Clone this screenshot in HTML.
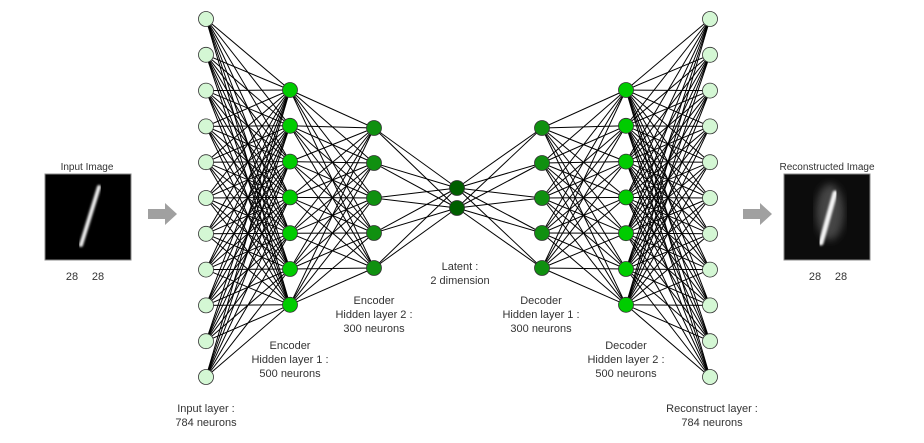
<!DOCTYPE html>
<html><head><meta charset="utf-8"><style>
body{margin:0;background:#fff;width:924px;height:443px;overflow:hidden;font-family:"Liberation Sans",sans-serif}
svg{position:absolute;left:0;top:0}
</style></head><body>
<svg id="s" width="924" height="443" xmlns="http://www.w3.org/2000/svg">
<defs>
<filter id="bl"><feGaussianBlur stdDeviation="1"/></filter>
<filter id="bl2"><feGaussianBlur stdDeviation="4"/></filter>
</defs>
<g id="lines" stroke="#000" stroke-width="1"></g>
<g id="nodes"></g>
<text x="87" y="170" font-size="10" text-anchor="middle" fill="#333">Input Image</text>
<rect x="45" y="174" width="86" height="86" fill="#000" stroke="#888" stroke-width="1"/>
<line x1="99" y1="187" x2="81" y2="245" stroke="#eee" stroke-width="4" stroke-linecap="round" filter="url(#bl)"/>
<text x="72" y="280" font-size="11" text-anchor="middle" fill="#333">28</text>
<text x="98" y="280" font-size="11" text-anchor="middle" fill="#333">28</text>
<polygon points="148,209 165,209 165,203 177,214 165,225 165,219 148,219" fill="#a0a0a0"/>
<text x="827" y="170" font-size="10" text-anchor="middle" fill="#333">Reconstructed Image</text>
<rect x="784" y="174" width="86" height="86" fill="#0c0c0c" stroke="#888" stroke-width="1"/>
<ellipse cx="830" cy="212" rx="14" ry="28" fill="#444" filter="url(#bl2)"/>
<line x1="835" y1="193" x2="821" y2="243" stroke="#f4f4f4" stroke-width="5" stroke-linecap="round" filter="url(#bl)"/>
<text x="815" y="280" font-size="11" text-anchor="middle" fill="#333">28</text>
<text x="841" y="280" font-size="11" text-anchor="middle" fill="#333">28</text>
<polygon points="743,209 760,209 760,203 772,214 760,225 760,219 743,219" fill="#a0a0a0"/>
<g font-size="11" fill="#333" text-anchor="middle">
<text x="206" y="412">Input layer :</text><text x="206" y="426">784 neurons</text>
<text x="290" y="349">Encoder</text><text x="290" y="363">Hidden layer 1 :</text><text x="290" y="377">500 neurons</text>
<text x="374" y="304">Encoder</text><text x="374" y="318">Hidden layer 2 :</text><text x="374" y="332">300 neurons</text>
<text x="460" y="270">Latent :</text><text x="460" y="284">2 dimension</text>
<text x="541" y="304">Decoder</text><text x="541" y="318">Hidden layer 1 :</text><text x="541" y="332">300 neurons</text>
<text x="626" y="349">Decoder</text><text x="626" y="363">Hidden layer 2 :</text><text x="626" y="377">500 neurons</text>
<text x="712" y="412">Reconstruct layer :</text><text x="712" y="426">784 neurons</text>
</g>
</svg>
<script>
var L=[
{x:206,n:11,y0:19,d:35.8,c:"#d4f7d4"},
{x:290,n:7,y0:90,d:35.8,c:"#00cc00"},
{x:374,n:5,y0:128,d:35,c:"#109010"},
{x:457,n:2,y0:188,d:20,c:"#005f00"},
{x:542,n:5,y0:128,d:35,c:"#109010"},
{x:626,n:7,y0:90,d:35.8,c:"#00cc00"},
{x:710,n:11,y0:19,d:35.8,c:"#d4f7d4"}];
var ns="http://www.w3.org/2000/svg",lg=document.getElementById("lines"),ng=document.getElementById("nodes");
function Y(l,i){return l.y0+i*l.d}
for(var k=0;k<L.length-1;k++){var a=L[k],b=L[k+1];
for(var i=0;i<a.n;i++)for(var j=0;j<b.n;j++){var e=document.createElementNS(ns,"line");
e.setAttribute("x1",a.x);e.setAttribute("y1",Y(a,i));e.setAttribute("x2",b.x);e.setAttribute("y2",Y(b,j));lg.appendChild(e);}}
L.forEach(function(l){for(var i=0;i<l.n;i++){var c=document.createElementNS(ns,"circle");
c.setAttribute("cx",l.x);c.setAttribute("cy",Y(l,i));c.setAttribute("r",7.5);c.setAttribute("fill",l.c);
c.setAttribute("stroke","#333");c.setAttribute("stroke-width","0.8");ng.appendChild(c);}});
</script>
</body></html>
